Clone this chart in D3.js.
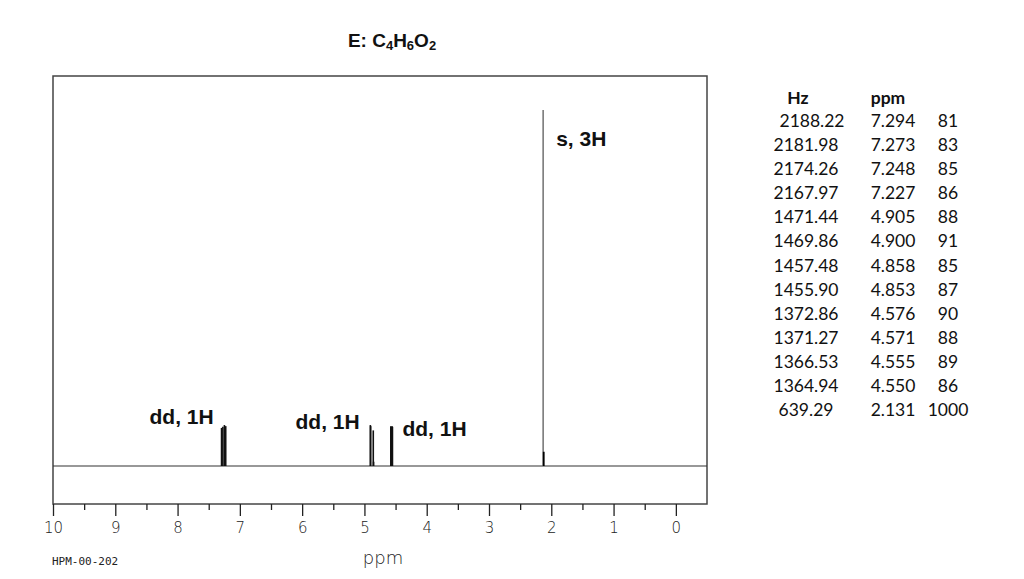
<!DOCTYPE html>
<html>
<head>
<meta charset="utf-8">
<script src="https://cdn.jsdelivr.net/npm/d3@7"></script>
<style>
  body { margin: 0; background: #fff; }
  svg { display: block; }
  .tbl { font-family: Lato, "Open Sans", sans-serif; font-size: 17.5px; fill: #111; }
  .lab { font-family: Arial, "Liberation Sans", sans-serif; font-weight: bold; font-size: 21px; fill: #111; }
</style>
</head>
<body>
<svg id="chart" width="1024" height="579"></svg>
<script>
// peak list (table on the right)
var hzList  = ["2188.22","2181.98","2174.26","2167.97","1471.44","1469.86","1457.48","1455.90","1372.86","1371.27","1366.53","1364.94","639.29"];
var ppmList = ["7.294","7.273","7.248","7.227","4.905","4.900","4.858","4.853","4.576","4.571","4.555","4.550","2.131"];
var intList = ["81","83","85","86","88","91","85","87","90","88","89","86","1000"];

// lines as drawn in the plot (height relative to the singlet = 1000)
var peakPpm    = [7.294, 7.273, 7.248, 7.227, 4.905, 4.900, 4.858, 4.853, 4.576, 4.571, 4.555, 4.550, 2.131];
var peakHeight = [107, 110, 115, 112, 115, 112, 100, 12, 112, 110, 112, 110, 1000];

var majorTicks = [10, 9, 8, 7, 6, 5, 4, 3, 2, 1, 0];
var minorTicks = [9.5, 8.5, 7.5, 6.5, 5.5, 4.5, 3.5, 2.5, 1.5, 0.5];

var labels = [
  {text: "dd, 1H", ppm: 7.26, y: 424, anchor: "end", dx: -10},
  {text: "dd, 1H", ppm: 4.90, y: 429, anchor: "end", dx: -11},
  {text: "dd, 1H", ppm: 4.55, y: 436, anchor: "start", dx: 10},
  {text: "s, 3H", ppm: 2.131, y: 146, anchor: "start", dx: 13}
];

var svg = d3.select("#chart"),
    box = {left: 53, right: 707, top: 76, bottom: 504},
    baseY = 466;

var x = d3.scaleLinear().domain([10, -0.5]).range([box.left, box.right]);
var y = d3.scaleLinear().domain([0, 1000]).range([baseY, 110]);

// title
var title = svg.append("text")
    .attr("class", "lab")
    .attr("x", 392)
    .attr("y", 47)
    .attr("text-anchor", "middle")
    .style("font-size", "19px");
title.append("tspan").text("E: C");
title.append("tspan").attr("dy", 3).style("font-size", "13px").text("4");
title.append("tspan").attr("dy", -3).text("H");
title.append("tspan").attr("dy", 3).style("font-size", "13px").text("6");
title.append("tspan").attr("dy", -3).text("O");
title.append("tspan").attr("dy", 3).style("font-size", "13px").text("2");

// frame
svg.append("rect")
    .attr("x", box.left)
    .attr("y", box.top)
    .attr("width", box.right - box.left)
    .attr("height", box.bottom - box.top)
    .attr("fill", "none")
    .attr("stroke", "#444")
    .attr("stroke-width", 1.5);

// baseline
svg.append("line")
    .attr("x1", box.left).attr("x2", box.right)
    .attr("y1", baseY).attr("y2", baseY)
    .attr("stroke", "#333")
    .attr("stroke-width", 1.2);

// peaks
svg.selectAll(".peak")
    .data(peakPpm)
  .enter().append("line")
    .attr("class", "peak")
    .attr("x1", function(d) { return x(d); })
    .attr("x2", function(d) { return x(d); })
    .attr("y1", baseY)
    .attr("y2", function(d, i) { return y(peakHeight[i]); })
    .attr("stroke", function(d, i) { return peakHeight[i] > 500 ? "#666" : "#111"; })
    .attr("stroke-width", function(d, i) { return peakHeight[i] > 500 ? 1.4 : 1.6; });

// dark foot of the singlet
svg.append("line")
    .attr("x1", x(2.131) + 0.6).attr("x2", x(2.131) + 0.6)
    .attr("y1", baseY).attr("y2", y(40))
    .attr("stroke", "#000")
    .attr("stroke-width", 1.8);

// multiplicity labels
svg.selectAll(".mlab")
    .data(labels)
  .enter().append("text")
    .attr("class", "lab")
    .attr("x", function(d) { return x(d.ppm) + d.dx; })
    .attr("y", function(d) { return d.y; })
    .attr("text-anchor", function(d) { return d.anchor; })
    .text(function(d) { return d.text; });

// x axis
var axisG = svg.append("g")
    .attr("transform", "translate(0," + box.bottom + ")")
    .call(d3.axisBottom(x).tickValues(majorTicks).tickSize(12).tickPadding(6).tickFormat(d3.format("d")));
axisG.select(".domain").remove();
axisG.selectAll("line").attr("stroke", "#222").attr("stroke-width", 1.3);
axisG.selectAll("text")
    .style("font-family", "'DejaVu Sans', sans-serif")
    .style("font-size", "15px")
    .style("font-weight", "300")
    .attr("fill", "#222");

var minorG = svg.append("g")
    .attr("transform", "translate(0," + box.bottom + ")")
    .call(d3.axisBottom(x).tickValues(minorTicks).tickSize(6).tickFormat(""));
minorG.select(".domain").remove();
minorG.selectAll("line").attr("stroke", "#222").attr("stroke-width", 1.3);

svg.append("text")
    .attr("x", 383)
    .attr("y", 564)
    .attr("text-anchor", "middle")
    .style("font-family", "'DejaVu Sans', sans-serif")
    .style("font-size", "18px")
    .style("font-weight", "300")
    .attr("fill", "#222")
    .text("ppm");

svg.append("text")
    .attr("x", 52)
    .attr("y", 565)
    .style("font-family", "'DejaVu Sans Mono', monospace")
    .style("font-size", "11px")
    .attr("fill", "#222")
    .text("HPM-00-202");

// peak table
var tbl = svg.append("g").attr("class", "tbl");
tbl.append("text").attr("x", 798).attr("y", 104).attr("text-anchor", "middle")
    .style("font-weight", "bold").text("Hz");
tbl.append("text").attr("x", 888).attr("y", 104).attr("text-anchor", "middle")
    .style("font-weight", "bold").text("ppm");

var rowY = d3.scaleLinear().domain([0, 12]).range([127, 416]);

tbl.selectAll(".hz")
    .data(hzList)
  .enter().append("text")
    .attr("x", function(d, i) { return i === 0 ? 812 : 806; })
    .attr("y", function(d, i) { return rowY(i); })
    .attr("text-anchor", "middle")
    .text(function(d) { return d; });

tbl.selectAll(".ppm")
    .data(ppmList)
  .enter().append("text")
    .attr("x", 893)
    .attr("y", function(d, i) { return rowY(i); })
    .attr("text-anchor", "middle")
    .text(function(d) { return d; });

tbl.selectAll(".int")
    .data(intList)
  .enter().append("text")
    .attr("x", 948)
    .attr("y", function(d, i) { return rowY(i); })
    .attr("text-anchor", "middle")
    .text(function(d) { return d; });
</script>
</body>
</html>
